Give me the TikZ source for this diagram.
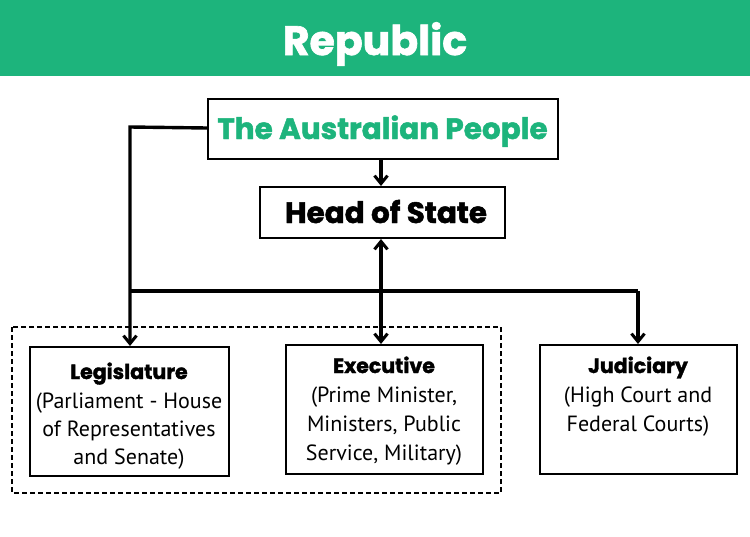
\documentclass[tikz,border=0pt]{standalone}
\usepackage{fontspec}
\setmainfont{PT Sans}
\newfontfamily\headfont{Poppins}[BoldFeatures={FakeBold=1.6}]
\usetikzlibrary{arrows.meta}
\definecolor{repgreen}{HTML}{1DB47C}
\tikzset{
  box/.style={draw=black, line width=2pt, fill=white, inner sep=0pt},
  conn/.style={line width=3.4pt, line join=miter},
  barb/.tip={Straight Barb[length=8pt,width=13pt,line width=3pt]},
  tip/.style={-barb},
  body/.style={anchor=base, inner sep=0pt, font=\fontsize{22}{28}\selectfont},
  sub/.style={anchor=base, inner sep=0pt, font=\headfont\bfseries\fontsize{20.5}{24}\selectfont},
  big/.style={anchor=base, inner sep=0pt, font=\headfont\bfseries\fontsize{29.5}{32}\selectfont},
}
\begin{document}
\begin{tikzpicture}[x=1pt,y=-1pt]
\useasboundingbox (0,0) rectangle (750,536);
\fill[repgreen] (0,0) rectangle (750,76);
\node[anchor=base, inner sep=0pt, text=white, font=\headfont\bfseries\fontsize{41}{44}\selectfont] (title) at (375,55) {Republic};

% boxes
\node[box, minimum width=350pt, minimum height=60pt] (people) at (383,129) {};
\node[big, text=repgreen] (peopletxt) at (382.5,139) {The Australian People};
\node[box, minimum width=245pt, minimum height=51pt] (head) at (382.5,212.5) {};
\node[big] (headtxt) at (386,223) {Head of State};

\draw[dash pattern=on 5pt off 3pt, line width=1.5pt] (12,327) rectangle (501,493);
\node[box, minimum width=199pt, minimum height=129pt] (leg) at (129.5,411.5) {};
\node[box, minimum width=197pt, minimum height=129pt] (exe) at (384.5,409.5) {};
\node[box, minimum width=197pt, minimum height=129pt] (jud) at (638.5,409.5) {};

\node[sub] (leghd) at (129,379) {Legislature};
\node[body] (leg1) at (129,408) {(Parliament - House};
\node[body] (leg2) at (129,436) {of Representatives};
\node[body] (leg3) at (129,464) {and Senate)};

\node[sub] (exehd) at (384,373) {Executive};
\node[body] (exe1) at (384,402) {(Prime Minister,};
\node[body] (exe2) at (384,431) {Ministers, Public};
\node[body] (exe3) at (384,460) {Service, Military)};

\node[sub] (judhd) at (638,373) {Judiciary};
\node[body] (jud1) at (638,402) {(High Court and};
\node[body] (jud2) at (638,431) {Federal Courts)};

% connectors
\coordinate (busL) at (130,291);
\coordinate (busR) at (638,291);
\draw[conn, tip] (people.south -| 381,0) -- (head.north -| 381,0);
\draw[conn, barb-barb] (head.south -| 381,0) -- (exe.north -| 381,0);
\draw[conn, tip] (people.west |- 0,128) -- (130,127) -- (leg.north -| 130,0);
\draw[conn] (busL) -- (busR);
\draw[conn, tip] (busR) -- (jud.north -| busR);
\end{tikzpicture}
\end{document}
